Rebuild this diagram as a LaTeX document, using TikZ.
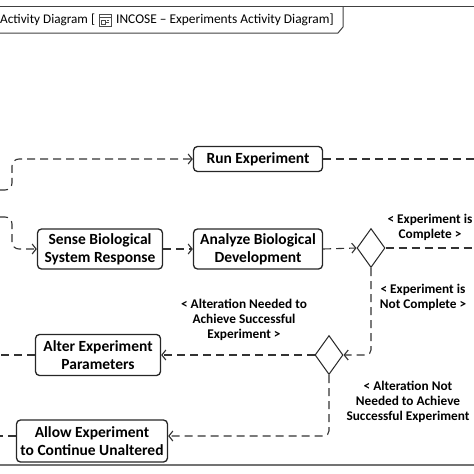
\documentclass[tikz,border=0pt]{standalone}
\usepackage{fontspec}
\setmainfont{Carlito}
\usetikzlibrary{arrows.meta,shapes.geometric}

\begin{document}
\begin{tikzpicture}[x=1pt,y=-1pt]
    % styles for the activity diagram
    \tikzset{
        action/.style={draw=black!85, line width=1.3pt, rounded corners=4pt, align=center, inner sep=0pt,
            font=\fontsize{15.5}{18}\selectfont\bfseries},
        decision/.style={diamond, draw=black!85, line width=1pt, inner sep=0pt, minimum width=28pt, minimum height=39pt},
        flowline/.style={draw=black!80, line width=1.1pt, dash pattern=on 8pt off 5pt},
        flow/.style={flowline, -{Straight Barb[length=4pt,width=10pt,line width=1.1pt]}},
        guard/.style={align=center, font=\fontsize{13.3}{15}\selectfont\bfseries},
        frame/.style={draw=black!75, line width=1pt},
    }
    \useasboundingbox (0,0) rectangle (474,474);

    % frame and title tab
    \draw[frame] (0,6) -- (474,6);
    \draw[frame] (0,33) -- (338,33) -- (343,27) -- (343,6);
    \node[anchor=west, inner sep=0pt, font=\fontsize{13.2}{15}\selectfont] (titleA) at (0,20) {Activity Diagram [};
    \draw[black!70, line width=0.6pt] (99,14) rectangle (111,26);
    \draw[black!70, line width=0.6pt] (99,17) -- (111,17) (101,20) rectangle (105,24) (105,22) -- (109,22) (107,20) -- (109,20);
    \node[anchor=west, inner sep=0pt, font=\fontsize{13.4}{15}\selectfont] (titleB) at (116,20) {INCOSE – Experiments Activity Diagram]};
    \draw[black!55, line width=2.5pt] (0,465) -- (474,465);

    % actions
    \node[action, minimum width=129pt, minimum height=25pt] (run) at (258,159) {Run Experiment};
    \node[action, minimum width=125pt, minimum height=40pt] (sense) at (100,249) {Sense Biological\\System Response};
    \node[action, minimum width=129pt, minimum height=40pt] (analyze) at (258,249) {Analyze Biological\\Development};
    \node[action, minimum width=125pt, minimum height=41pt] (alter) at (98,355) {Alter Experiment\\Parameters};
    \node[action, minimum width=151pt, minimum height=42pt] (allow) at (92,441) {Allow Experiment\\to Continue Unaltered};

    % decisions
    \node[decision] (dec1) at (371,248) {};
    \node[decision] (dec2) at (329,355) {};

    % loose ends at the picture border
    \coordinate (in1) at (0,190);
    \coordinate (in2) at (0,217);
    \coordinate (out0) at (474,159);
    \coordinate (out1) at (474,248);
    \coordinate (out2) at (0,355);
    \coordinate (out3) at (0,436);

    % control flows
    \draw[flow, rounded corners=7pt] (in1) -| (12,159) -- (run.west);
    \draw[flow, rounded corners=7pt] (in2) -| (12,249) -- (sense.west);
    \draw[flowline] (run.east) -- (out0);
    \draw[flow] (sense.east) -- (analyze.west);
    \draw[flow] (analyze.east) -- (dec1.west);
    \draw[flowline] (dec1.east) -- (out1);
    \draw[flow, rounded corners=5pt] (dec1.south) |- (dec2.east);
    \draw[flow] (dec2.west) -- (alter.east);
    \draw[flowline] (alter.west) -- (out2);
    \draw[flow, rounded corners=5pt] (dec2.south) |- ([yshift=5pt]allow.east);
    \draw[flowline] ([yshift=5pt]allow.west) -- (out3);

    % guards
    \node[guard] (gComplete) at (430,227) {< Experiment is\\Complete >};
    \node[guard] (gNotComplete) at (423,297) {< Experiment is\\Not Complete >};
    \node[guard] (gNeeded) at (244,320) {< Alteration Needed to\\Achieve Successful\\Experiment >};
    \node[guard] (gNotNeeded) at (408,402) {< Alteration Not\\Needed to Achieve\\Successful Experiment};
\end{tikzpicture}
\end{document}
